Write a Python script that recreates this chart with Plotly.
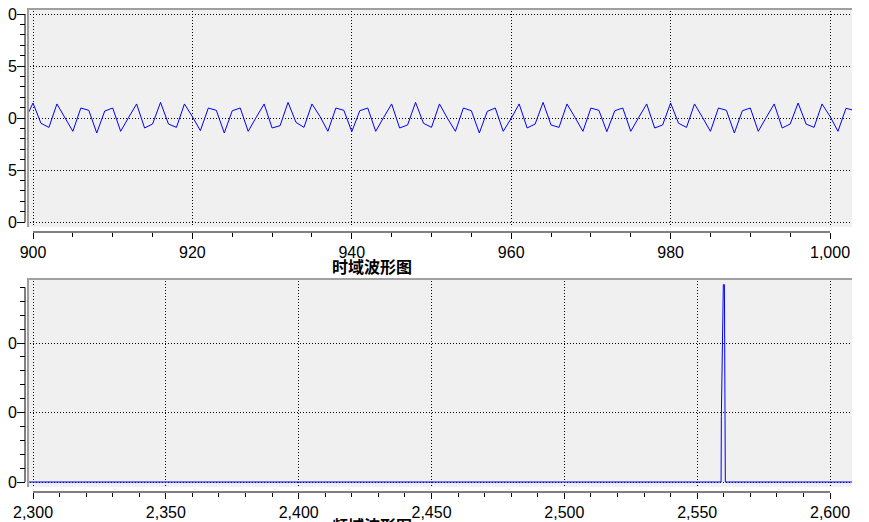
import plotly.graph_objects as go

W, H = 869, 522
OFF = 8  # page offset of the plot div (default body margin)

# ---------------- data ----------------
TIME_X = list(range(899, 1004))
TIME_Y = [
    -0.20, 1.44, -0.51, -0.90, 1.35, 0.06, -1.28, 0.96, 0.74, -1.44,
    0.67, 0.96, -1.28, 0.06, 1.35, -0.96, -0.58, 1.50, -0.58, -0.90,
    1.35, 0.13, -1.22, 0.96, 0.74, -1.44, 0.70, 0.96, -1.28, 0.06,
    1.35, -0.96, -0.74, 1.50, -0.42, -0.90, 1.35, 0.16, -1.28, 0.96,
    0.74, -1.31, 0.70, 0.96, -1.28, 0.06, 1.35, -0.96, -0.67, 1.50,
    -0.51, -0.90, 1.35, -0.03, -1.28, 0.96, 0.70, -1.44, 0.64, 0.96,
    -1.28, -0.03, 1.35, -0.96, -0.58, 1.50, -0.67, -0.90, 1.35, 0.06,
    -1.28, 0.96, 0.74, -1.31, 0.70, 0.96, -1.28, 0.06, 1.35, -0.96,
    -0.67, 1.44, -0.51, -0.90, 1.35, 0.06, -1.28, 0.96, 0.74, -1.44,
    0.70, 0.96, -1.28, 0.06, 1.35, -0.96, -0.58, 1.44, -0.58, -0.90,
    1.35, 0.16, -1.28, 0.93, 0.74,
]

FREQ_X = [2290, 2559.0, 2559.1, 2559.45, 2559.85, 2560.25, 2560.35, 2560.6, 2620]
FREQ_Y = [0, 0, 47, 94, 142, 142, 70, 0, 0]

TOP_XTICKS = [900, 920, 940, 960, 980, 1000]
TOP_XLABELS = ["900", "920", "940", "960", "980", "1,000"]
TOP_YTICKS = [-10, -5, 0, 5, 10]
TOP_YLABELS = ["-10", "-5", "0", "5", "10"]

BOT_XTICKS = [2300, 2350, 2400, 2450, 2500, 2550, 2600]
BOT_XLABELS = ["2,300", "2,350", "2,400", "2,450", "2,500", "2,550", "2,600"]
BOT_YTICKS = [0, 50, 100]
BOT_YLABELS = ["0", "50", "100"]

TITLES = ["时域波形图", "频域波形图"]


def fx(p):
    return (p - OFF) / W


def fy(p):
    return 1 - (p - OFF) / H


TICKFONT = dict(family="Liberation Sans", size=16, color="black")
GRID = dict(showgrid=True, gridcolor="black", gridwidth=1, griddash="1px,2px",
            zeroline=False, showline=False, automargin=False,
            ticklabeloverflow="allow")

fig = go.Figure()
fig.add_trace(go.Scatter(x=TIME_X, y=TIME_Y, mode="lines",
                         line=dict(color="#0000ff", width=1),
                         xaxis="x", yaxis="y", hoverinfo="skip"))
fig.add_trace(go.Scatter(x=FREQ_X, y=FREQ_Y, mode="lines",
                         line=dict(color="#0000ff", width=1),
                         xaxis="x2", yaxis="y2", hoverinfo="skip"))


def xaxis_cfg(rng, vals, labels, pos, minor_dtick, minor_tick0):
    return dict(domain=[fx(27), fx(852)], range=rng, anchor="free", position=fy(pos),
                tickmode="array", tickvals=vals, ticktext=labels,
                ticks="outside", ticklen=6, tickwidth=1, tickcolor="black",
                tickfont=TICKFONT,
                minor=dict(tick0=minor_tick0, dtick=minor_dtick, ticks="outside",
                           ticklen=4, tickwidth=1, tickcolor="black", showgrid=False),
                **GRID)


def yaxis_cfg(rng, vals, labels, dom, minor_dtick):
    return dict(domain=dom, range=rng, anchor="free", position=fx(25),
                tickmode="array", tickvals=vals, ticktext=labels,
                ticks="outside", ticklen=8, tickwidth=1, tickcolor="black",
                tickfont=TICKFONT, ticklabelstandoff=-3,
                minor=dict(tick0=0, dtick=minor_dtick, ticks="outside",
                           ticklen=5, tickwidth=1, tickcolor="black", showgrid=False),
                **GRID)


fig.update_layout(
    width=W, height=H,
    margin=dict(l=0, r=0, t=0, b=0, pad=0, autoexpand=False),
    paper_bgcolor="white", plot_bgcolor="#f0f0f0",
    showlegend=False,
    xaxis=xaxis_cfg([899.247, 1002.76], TOP_XTICKS, TOP_XLABELS, 232, 5, 900),
    yaxis=yaxis_cfg([-10.48, 10.577], TOP_YTICKS, TOP_YLABELS, [fy(227), fy(8)], 1),
    xaxis2=xaxis_cfg([2297.74, 2608.28], BOT_XTICKS, BOT_XLABELS, 492, 10, 2300),
    yaxis2=yaxis_cfg([-3.6, 146.76], BOT_YTICKS, BOT_YLABELS, [fy(487), fy(278)], 10),
)

shapes = []
# axis lines spanning the tick range only
shapes.append(dict(type="line", xref="x", yref="paper", x0=TOP_XTICKS[0], x1=TOP_XTICKS[-1],
                   y0=fy(232), y1=fy(232), line=dict(color="black", width=1)))
shapes.append(dict(type="line", xref="paper", yref="y", x0=fx(25), x1=fx(25),
                   y0=TOP_YTICKS[0], y1=TOP_YTICKS[-1], line=dict(color="black", width=1)))
shapes.append(dict(type="line", xref="x2", yref="paper", x0=BOT_XTICKS[0], x1=BOT_XTICKS[-1],
                   y0=fy(492), y1=fy(492), line=dict(color="black", width=1)))
shapes.append(dict(type="line", xref="paper", yref="y2", x0=fx(25), x1=fx(25),
                   y0=0, y1=140, line=dict(color="black", width=1)))
# sunken gray frame (top + left) of each plot area
for top, bot in [(8, 227), (278, 487)]:
    shapes.append(dict(type="line", xref="paper", yref="paper", x0=fx(27), x1=fx(852),
                       y0=fy(top + 1), y1=fy(top + 1), line=dict(color="#a0a0a0", width=2),
                       layer="above"))
    shapes.append(dict(type="line", xref="paper", yref="paper", x0=fx(28), x1=fx(28),
                       y0=fy(top), y1=fy(bot), line=dict(color="#a0a0a0", width=2),
                       layer="above"))
fig.update_layout(shapes=shapes)

TITLE_FONT = dict(family="Noto Sans CJK SC", size=16, color="black", weight="bold")
fig.add_annotation(text=TITLES[0], xref="paper", yref="paper", x=fx(372), y=fy(252),
                   xanchor="center", yanchor="top", showarrow=False, font=TITLE_FONT)
fig.add_annotation(text=TITLES[1], xref="paper", yref="paper", x=fx(372), y=fy(511),
                   xanchor="center", yanchor="top", showarrow=False, font=TITLE_FONT)

fig.write_html("out.html")
